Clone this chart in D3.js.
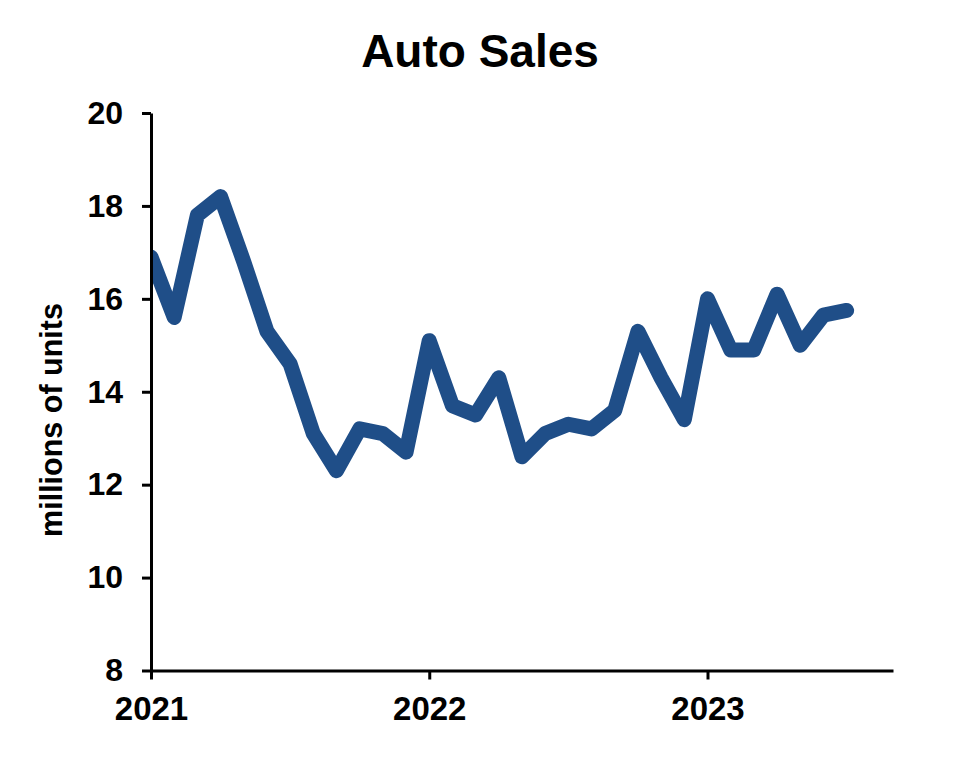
<!DOCTYPE html>
<html>
<head>
<meta charset="utf-8">
<script src="https://cdn.jsdelivr.net/npm/d3@7"></script>
<style>
  html, body { margin: 0; padding: 0; background: #ffffff; }
  svg { display: block; }
  text { font-family: "Liberation Sans", Arial, sans-serif; font-weight: bold; fill: #000; }
</style>
</head>
<body>
<svg id="chart" width="958" height="784"></svg>
<script>
// ---- Data (monthly, Jan 2021 – Jul 2023), millions of units ----
const months = [
  "2021-01","2021-02","2021-03","2021-04","2021-05","2021-06","2021-07","2021-08","2021-09","2021-10","2021-11","2021-12",
  "2022-01","2022-02","2022-03","2022-04","2022-05","2022-06","2022-07","2022-08","2022-09","2022-10","2022-11","2022-12",
  "2023-01","2023-02","2023-03","2023-04","2023-05","2023-06","2023-07"
];
const sales = [
  16.9, 15.6, 17.8, 18.2, 16.8, 15.3, 14.6, 13.1, 12.3, 13.2, 13.1, 12.7,
  15.1, 13.7, 13.5, 14.3, 12.6, 13.1, 13.3, 13.2, 13.6, 15.3, 14.3, 13.4,
  16.0, 14.9, 14.9, 16.1, 15.0, 15.65, 15.75
];
const yTicks = [8, 10, 12, 14, 16, 18, 20];
const xTickLabels = ["2021", "2022", "2023"];
const chartTitle = "Auto Sales";
const yLabel = "millions of units";

// ---- Layout ----
const svg = d3.select("#chart");
const mLeft = 151, mRight = 893, mTop = 113, mBottom = 670.5;

const parse = d3.timeParse("%Y-%m");
const startDate = parse(months[0]);
const monthIndex = d => d3.timeMonth.count(startDate, parse(d));

const x = d3.scaleLinear().domain([0, 32]).range([mLeft, mRight]);
const y = d3.scaleLinear().domain([8, 20]).range([mBottom, mTop]);

const data = months.map((m, i) => ({ i: monthIndex(m), v: sales[i] }));

// clip so line does not extend left of the y-axis
svg.append("defs").append("clipPath").attr("id", "plotclip")
  .append("rect").attr("x", mLeft).attr("y", 0).attr("width", 958 - mLeft).attr("height", 784);

const line = d3.line().x(d => x(d.i)).y(d => y(d.v));
svg.append("path")
  .datum(data)
  .attr("clip-path", "url(#plotclip)")
  .attr("d", line)
  .attr("fill", "none")
  .attr("stroke", "#1f4e88")
  .attr("stroke-width", 15)
  .attr("stroke-linejoin", "round")
  .attr("stroke-linecap", "round");

// ---- Axes ----
const yAxis = d3.axisLeft(y).tickValues(yTicks).tickSize(9).tickSizeOuter(0).tickPadding(19)
  .tickFormat(d3.format("d"));
const gy = svg.append("g").attr("transform", `translate(${mLeft},0)`).call(yAxis);
gy.select(".domain").attr("stroke", "#000").attr("stroke-width", 3);
gy.selectAll(".tick line").attr("stroke", "#000").attr("stroke-width", 3);
gy.selectAll(".tick text").style("font-size", "32px").style("font-family", "'Liberation Sans', Arial, sans-serif")
  .style("font-weight", "bold").attr("fill", "#000");

const xTickVals = xTickLabels.map(l => monthIndex(l + "-01"));
const xAxis = d3.axisBottom(x).tickValues(xTickVals).tickSize(9).tickSizeOuter(0).tickPadding(17)
  .tickFormat((d, i) => xTickLabels[i]);
const gx = svg.append("g").attr("transform", `translate(0,${mBottom})`).call(xAxis);
gx.select(".domain").attr("stroke", "#000").attr("stroke-width", 3);
gx.selectAll(".tick line").attr("stroke", "#000").attr("stroke-width", 3);
gx.selectAll(".tick text").style("font-size", "33px").style("font-family", "'Liberation Sans', Arial, sans-serif")
  .style("font-weight", "bold").attr("fill", "#000");

// ---- Title & axis label ----
svg.append("text")
  .attr("x", 480).attr("y", 67)
  .attr("text-anchor", "middle")
  .style("font-size", "46px")
  .text(chartTitle);

svg.append("text")
  .attr("transform", "translate(62,420) rotate(-90)")
  .attr("text-anchor", "middle")
  .style("font-size", "30.5px")
  .text(yLabel);
</script>
</body>
</html>
